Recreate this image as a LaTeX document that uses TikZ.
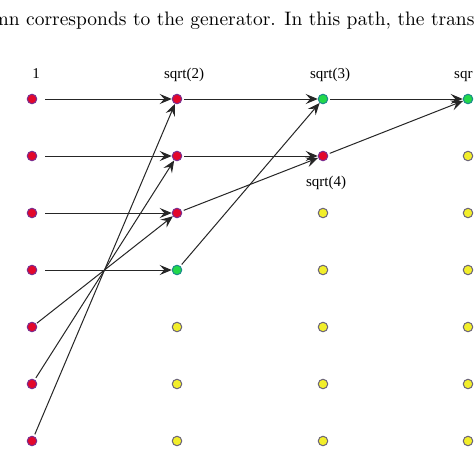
\documentclass[tikz,border=0pt]{standalone}
\usepackage{fontspec}
\usepackage{graphicx}
\newfontfamily\labfont{Liberation Serif}
\usetikzlibrary{arrows.meta}
\font\toptext=cmr10
\definecolor{nred}{HTML}{E3072B}
\definecolor{nredb}{HTML}{7B2D8E}
\definecolor{ngreen}{HTML}{22D84A}
\definecolor{ngreenb}{HTML}{1A8A8A}
\definecolor{nyel}{HTML}{F2EE2A}
\definecolor{nyelb}{HTML}{6B6478}
\begin{document}
\begin{tikzpicture}[x=1pt,y=-1pt,
  dot/.style={circle,inner sep=0pt,minimum size=9.5pt,line width=1pt},
  rdot/.style={dot,fill=nred,draw=nredb},
  gdot/.style={dot,fill=ngreen,draw=ngreenb},
  ydot/.style={dot,fill=nyel,draw=nyelb},
  arr/.style={-{Stealth[length=12pt,width=10pt,inset=4.5pt]},line width=1pt,draw=black!85},
  lab/.style={font=\labfont\fontsize{15}{18}\selectfont,inner sep=0pt,anchor=base},
  title/.style={inner sep=0pt,anchor=base west}
]
\clip (0,0) rectangle (474,474);
\fill[white] (0,0) rectangle (474,474);
% column 0
\foreach \r in {0,...,6} \node[rdot] (n0\r) at (32,{99+57*\r}) {};
% column 1
\foreach \r in {0,1,2} \node[rdot] (n1\r) at (177,{99+57*\r}) {};
\node[gdot] (n13) at (177,270) {};
\foreach \r in {4,5,6} \node[ydot] (n1\r) at (177,{99+57*\r}) {};
% column 2
\node[gdot] (n20) at (323,99) {};
\node[rdot] (n21) at (323,156) {};
\foreach \r in {2,...,6} \node[ydot] (n2\r) at (323,{99+57*\r}) {};
% column 3
\node[gdot] (n30) at (468,99) {};
\foreach \r in {1,...,6} \node[ydot] (n3\r) at (468,{99+57*\r}) {};
% labels
\node[title] (txt) at (26,25) {\resizebox{448.7pt}{!}{\toptext\llap{mn }corresponds to the generator. In this path, the trans}};
\node[lab] (l0) at (36,78) {1};
\node[lab] (l1) at (184,78) {sqrt(2)};
\node[lab] (l2) at (330,78) {sqrt(3)};
\node[lab,anchor=base west] (l3) at (454,78) {sqr};
\node[lab] (l4) at (326,186) {sqrt(4)};
% edges
\foreach \r in {0,...,3} \draw[arr,shorten <=8pt] (n0\r) -- (n1\r);
\draw[arr,shorten <=1pt] (n04) -- (n12);
\draw[arr,shorten <=2pt] (n05) -- (n11);
\draw[arr,shorten <=2pt] (n06) -- (n10);
\draw[arr,shorten <=2pt] (n10) -- (n20);
\draw[arr,shorten <=2pt] (n11) -- (n21);
\draw[arr,shorten <=2pt] (n12) -- (n21);
\draw[arr,shorten <=2pt] (n13) -- (n20);
\draw[arr,shorten <=2pt] (n20) -- (n30);
\draw[arr,shorten <=2pt] (n21) -- (n30);
\end{tikzpicture}
\end{document}
